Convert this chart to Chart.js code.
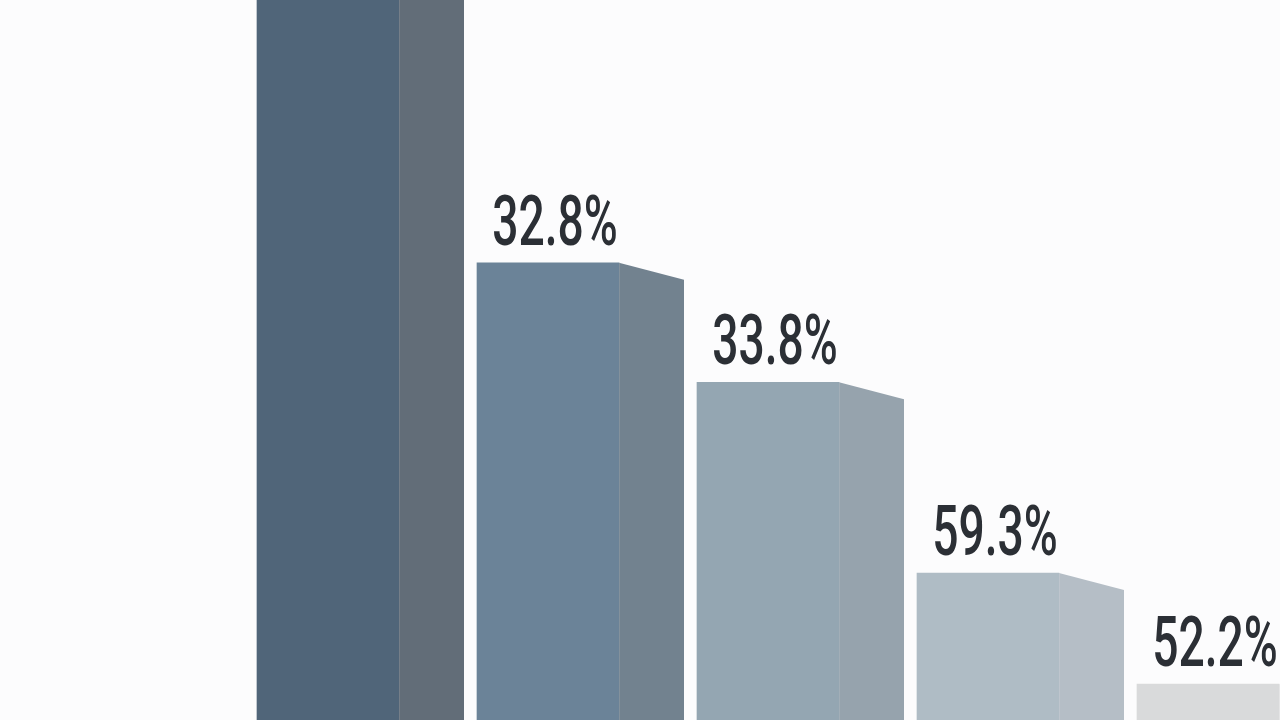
<!DOCTYPE html>
<html>
<head>
<meta charset="utf-8">
<script src="https://cdn.jsdelivr.net/npm/chart.js@4"></script>
<style>
  html, body { margin: 0; padding: 0; background: #fcfcfd; overflow: hidden; }
  #wrap { width: 1400px; height: 720px; position: relative; }
  canvas { display: block; }
</style>
</head>
<body>
<div id="wrap"><canvas id="barChart" width="1400" height="720"></canvas></div>
<script>
// data (bar heights in chart units, 0..100 = bottom..top)
const categories = ['A', 'B', 'C', 'D', 'E'];
const heights = [112, 63.5, 46.9, 20.4, 5.0];
const valueLabels = ['', '32.8%', '33.8%', '59.3%', '52.2%'];

const frontColors = ['#506579', '#6b8398', '#94a6b2', '#afbcc5', '#d9dadb'];
const sideColors = ['#626d78', '#72828f', '#96a3ad', '#b5bec6', '#e2e2e3'];

// side face + labels on top of each bar
const boxPlugin = {
    id: 'boxPlugin',
    afterDatasetsDraw(chart) {
        const ctx = chart.ctx;
        const meta = chart.getDatasetMeta(0);
        meta.data.forEach((bar, i) => {
            const right = bar.x + bar.width / 2;
            const depth = 65;
            const drop = 17;
            ctx.save();
            ctx.fillStyle = sideColors[i];
            ctx.beginPath();
            ctx.moveTo(right, bar.y);
            ctx.lineTo(right + depth, bar.y + drop);
            ctx.lineTo(right + depth, bar.base);
            ctx.lineTo(right, bar.base);
            ctx.closePath();
            ctx.fill();
            // thin seam between the faces
            ctx.strokeStyle = 'rgba(255,255,255,0.12)';
            ctx.lineWidth = 1;
            ctx.beginPath();
            ctx.moveTo(right + 0.5, bar.y);
            ctx.lineTo(right + 0.5, bar.base);
            ctx.stroke();
            ctx.restore();

            if (!valueLabels[i]) return;
            ctx.save();
            ctx.fillStyle = '#2b2f35';
            ctx.font = '500 70px Roboto';
            ctx.textAlign = 'center';
            ctx.textBaseline = 'alphabetic';
            ctx.translate(bar.x + 7, bar.y - 18);
            ctx.scale(0.66, 1);
            ctx.fillText(valueLabels[i], 0, 0);
            ctx.restore();
        });
    }
};

const ctx = document.getElementById('barChart').getContext('2d');
const barChart = new Chart(ctx, {
    type: 'bar',
    data: {
        labels: categories,
        datasets: [{
            data: heights,
            backgroundColor: frontColors,
            borderWidth: 0,
            barThickness: 142
        }]
    },
    options: {
        responsive: false,
        maintainAspectRatio: false,
        devicePixelRatio: 1,
        animation: false,
        layout: { padding: { left: 218, right: 82, top: 0, bottom: 0 } },
        plugins: {
            legend: { display: false },
            tooltip: { enabled: false }
        },
        scales: {
            x: { display: false },
            y: { display: false, min: 0, max: 100 }
        }
    },
    plugins: [boxPlugin]
});
</script>
</body>
</html>
